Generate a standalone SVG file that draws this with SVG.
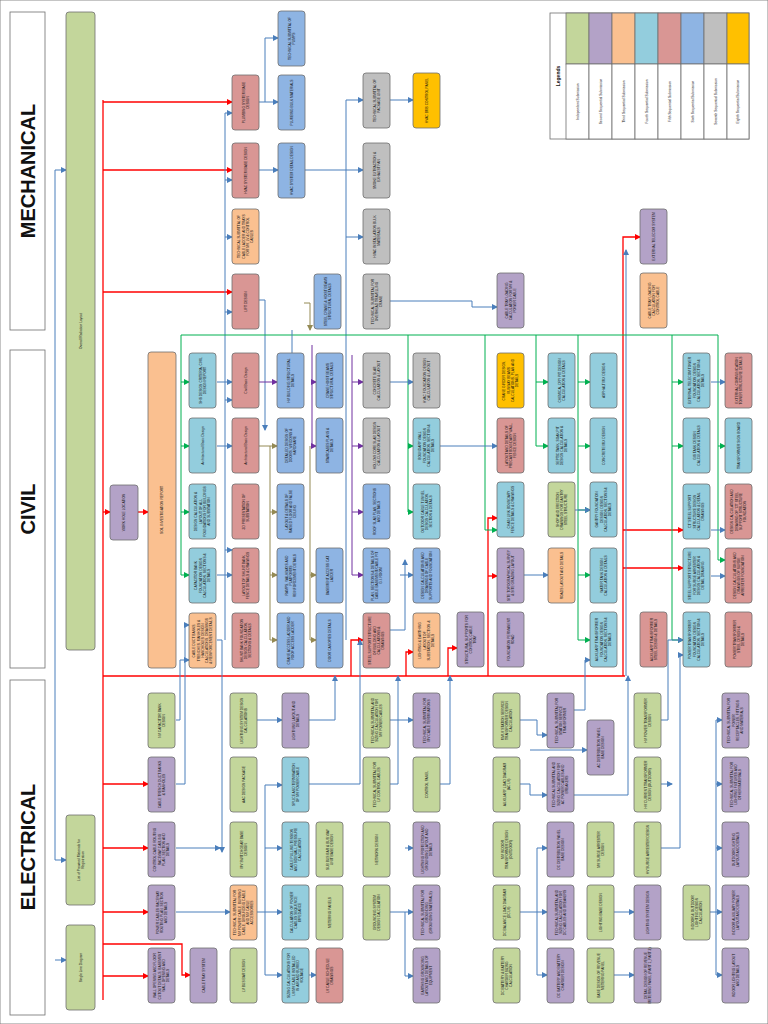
<svg xmlns="http://www.w3.org/2000/svg" width="768" height="1024" viewBox="0 0 768 1024">
<style>
rect{stroke:#6f6f6f;stroke-width:0.8}
.g{fill:#c3d69b}.p{fill:#b3a2c7}.o{fill:#fac090}.t{fill:#93cddd}.r{fill:#d99694}.b{fill:#8eb4e3}.gr{fill:#bfbfbf}.y{fill:#ffc000}.w{fill:#fff}
text{font-family:"Liberation Sans",Arial,sans-serif;font-size:3.3px;text-anchor:middle;fill:#111}
.h{font-size:20px;font-weight:bold}
.cb{fill:none;stroke:#4a7ebb;stroke-width:1;marker-end:url(#ab)}
.cr{fill:none;stroke:#ff0000;stroke-width:1.3;marker-end:url(#ar)}
.crn{fill:none;stroke:#ff0000;stroke-width:1.3}
.cg{fill:none;stroke:#00b050;stroke-width:1;marker-end:url(#ag)}
.cgn{fill:none;stroke:#00b050;stroke-width:1}
.cp{fill:none;stroke:#7030a0;stroke-width:1;marker-end:url(#ap)}
.co{fill:none;stroke:#948a54;stroke-width:1;marker-end:url(#ao)}
</style>
<defs>
<marker id="ab" markerWidth="6" markerHeight="6" refX="5" refY="3" orient="auto" markerUnits="userSpaceOnUse"><path d="M0,0L6,3L0,6z" fill="#4a7ebb"/></marker>
<marker id="ar" markerWidth="6" markerHeight="6" refX="5" refY="3" orient="auto" markerUnits="userSpaceOnUse"><path d="M0,0L6,3L0,6z" fill="#ff0000"/></marker>
<marker id="ag" markerWidth="6" markerHeight="6" refX="5" refY="3" orient="auto" markerUnits="userSpaceOnUse"><path d="M0,0L6,3L0,6z" fill="#00b050"/></marker>
<marker id="ap" markerWidth="6" markerHeight="6" refX="5" refY="3" orient="auto" markerUnits="userSpaceOnUse"><path d="M0,0L6,3L0,6z" fill="#7030a0"/></marker>
<marker id="ao" markerWidth="6" markerHeight="6" refX="5" refY="3" orient="auto" markerUnits="userSpaceOnUse"><path d="M0,0L6,3L0,6z" fill="#948a54"/></marker>
</defs>
<rect x="0" y="0" width="768" height="1024" fill="#fff" stroke="none"/>

<g id="headers">
<rect class="w" x="10" y="12" width="35" height="318"/><text class="h" transform="rotate(-90 27.5 171)" x="27.5" y="178">MECHANICAL</text>
<rect class="w" x="10" y="350" width="35" height="318"/><text class="h" transform="rotate(-90 27.5 509)" x="27.5" y="516">CIVIL</text>
<rect class="w" x="10" y="680" width="35" height="335"/><text class="h" transform="rotate(-90 27.5 847)" x="27.5" y="854">ELECTRICAL</text>
</g>

<g id="legend">
<rect class="w" x="550" y="13" width="199" height="126"/>
<text transform="rotate(-90 558 76)" x="558" y="77.5" style="font-size:5px;font-weight:bold">Legends</text>
<rect class="g" x="566" y="13" width="23" height="51"/><rect class="w" x="566" y="64" width="23" height="75"/><text transform="rotate(-90 577.5 101.5)" x="577.5" y="102.7">Independent Submission</text>
<rect class="p" x="589" y="13" width="23" height="51"/><rect class="w" x="589" y="64" width="23" height="75"/><text transform="rotate(-90 600.5 101.5)" x="600.5" y="102.7">Second Sequential Submission</text>
<rect class="o" x="612" y="13" width="23" height="51"/><rect class="w" x="612" y="64" width="23" height="75"/><text transform="rotate(-90 623.5 101.5)" x="623.5" y="102.7">Third Sequential Submission</text>
<rect class="t" x="635" y="13" width="23" height="51"/><rect class="w" x="635" y="64" width="23" height="75"/><text transform="rotate(-90 646.5 101.5)" x="646.5" y="102.7">Fourth Sequential Submission</text>
<rect class="r" x="658" y="13" width="23" height="51"/><rect class="w" x="658" y="64" width="23" height="75"/><text transform="rotate(-90 669.5 101.5)" x="669.5" y="102.7">Fifth Sequential Submission</text>
<rect class="b" x="681" y="13" width="23" height="51"/><rect class="w" x="681" y="64" width="23" height="75"/><text transform="rotate(-90 692.5 101.5)" x="692.5" y="102.7">Sixth Sequential Submission</text>
<rect class="gr" x="704" y="13" width="23" height="51"/><rect class="w" x="704" y="64" width="23" height="75"/><text transform="rotate(-90 715.5 101.5)" x="715.5" y="102.7">Seventh Sequential Submission</text>
<rect class="y" x="727" y="13" width="22" height="51"/><rect class="w" x="727" y="64" width="22" height="75"/><text transform="rotate(-90 738 101.5)" x="738" y="102.7">Eighth Sequential Submission</text>
</g>

<g id="connectors">
<path class="crn" d="M103,100V1000"/>
<path class="cr" d="M103,102H232"/><path class="cr" d="M103,170H232"/><path class="cr" d="M103,292H232"/>
<path class="cr" d="M103,512H110"/><path class="cr" d="M138,512H148"/>
<path class="cr" d="M103,784H148"/><path class="cr" d="M103,848H148"/><path class="cr" d="M103,912H148"/><path class="cr" d="M103,976H148"/>
<path class="cr" d="M103,944H182V975H190"/>
<path class="crn" d="M103,676H625"/>
<path class="cr" d="M351,676V640H363"/><path class="cr" d="M406,676V652H413"/><path class="cr" d="M448,676V648H457"/>
<path class="cr" d="M488,676V518H497"/><path class="cr" d="M488,576H497"/>
<path class="cr" d="M623,676V237H640"/><path class="cr" d="M623,530H683"/><path class="cr" d="M623,568H683"/>
<path class="cb" d="M626,676V250"/>
<path class="cb" d="M55,170V860H66"/><path class="cb" d="M55,170H66"/><path class="cb" d="M55,960H66"/>
<path class="cb" d="M225,640V113H232"/><path class="cb" d="M225,180H232"/><path class="cb" d="M225,237H232"/><path class="cb" d="M225,312H232"/>
<path class="cb" d="M258,102H265V38H278"/><path class="cb" d="M265,102H278"/>
<path class="cb" d="M258,170H278"/><path class="cb" d="M304,170H363"/>
<path class="cb" d="M346,640V100H363"/><path class="cb" d="M346,237H363"/>
<path class="cb" d="M390,100H413"/>
<path class="cb" d="M390,301H472V307H497"/>
<path class="cb" d="M258,300H265V430"/>
<path class="co" d="M304,303H310V330"/>
<path class="cgn" d="M181,335H718"/>
<path class="cg" d="M181,335V575H189"/><path class="cg" d="M181,382H189"/><path class="cg" d="M181,446H189"/><path class="cg" d="M181,512H189"/>
<path class="cg" d="M408,335V512H413"/><path class="cg" d="M408,446H413"/>
<path class="cg" d="M485,335V530H497"/>
<path class="cg" d="M536,335V446H548"/><path class="cg" d="M536,382H548"/>
<path class="cg" d="M578,335V640H590"/><path class="cg" d="M578,382H590"/><path class="cg" d="M578,446H590"/><path class="cg" d="M578,510H590"/><path class="cg" d="M578,575H590"/>
<path class="cg" d="M672,335V640H683"/><path class="cg" d="M672,382H683"/><path class="cg" d="M672,446H683"/>
<path class="cg" d="M718,335V560H725"/><path class="cg" d="M718,446H725"/>
<path class="cb" d="M217,382H232"/><path class="cb" d="M217,446H232"/><path class="cb" d="M217,575H232"/>
<path class="cb" d="M225,400H232"/><path class="cb" d="M225,550H232"/>
<path class="cp" d="M258,382H277"/>
<path class="co" d="M258,446H270V640H277"/><path class="co" d="M270,512H277"/><path class="co" d="M270,575H277"/><path class="co" d="M270,446H277"/>
<path class="co" d="M310,446V640H316"/><path class="co" d="M310,575H316"/>
<path class="cp" d="M352,355V575H363"/><path class="cp" d="M352,382H363"/><path class="cp" d="M352,446H363"/><path class="cp" d="M352,512H363"/>
<path class="cp" d="M312,345V446H316"/><path class="cp" d="M312,382H316"/>
<path class="cb" d="M292,330V395"/>
<path class="cb" d="M390,382H413"/><path class="cb" d="M440,446H497"/>
<path class="cb" d="M574,510H590"/><path class="cb" d="M523,575H548"/>
<path class="cb" d="M711,382H725"/><path class="cb" d="M711,530H725"/><path class="cb" d="M711,576H725"/>
<path class="cb" d="M400,575H413"/><path class="cb" d="M390,630H405V560"/>
<path class="cb" d="M176,720H180V660H189"/>
<path class="cb" d="M176,784H185V625H189"/>
<path class="cb" d="M217,640H222V852"/>
<path class="cb" d="M176,848H220"/>
<path class="cb" d="M176,912H230"/>
<path class="cb" d="M257,912H265V975H282"/><path class="cb" d="M265,785V912H282"/><path class="cb" d="M265,785H282"/><path class="cb" d="M265,848H282"/>
<path class="cb" d="M257,720H282"/>
<path class="cb" d="M308,720H335V676"/><path class="cb" d="M308,784H360V640"/>
<path class="cb" d="M308,975H316"/>
<path class="cb" d="M390,912H405V976H413"/><path class="cb" d="M405,848H413"/><path class="cb" d="M405,912H413"/>
<path class="cb" d="M390,720H413"/><path class="cb" d="M390,784H398V676"/><path class="cb" d="M440,784H450V676"/>
<path class="cb" d="M520,720H537V735H547"/>
<path class="cb" d="M520,784H530V795H547"/><path class="cb" d="M530,750H587"/>
<path class="cb" d="M520,912H537V975H547"/><path class="cb" d="M537,848V912H547"/><path class="cb" d="M537,848H547"/>
<path class="cb" d="M574,710H585V660H590"/><path class="cb" d="M574,795H628V676"/>
<path class="cb" d="M613,912H634"/><path class="cb" d="M613,975H634"/>
<path class="cb" d="M710,912H716V975H722"/><path class="cb" d="M716,720V912H722"/><path class="cb" d="M716,720H722"/><path class="cb" d="M716,784H722"/><path class="cb" d="M716,848H722"/>
<path class="cb" d="M661,720H668V640H683"/><path class="cb" d="M661,784H672"/><path class="cb" d="M661,848H680V655H683"/>
</g>

<g id="n_overall"><rect class="g" x="66" y="12" width="29" height="638" rx="3"/><text transform="rotate(-90 80.5 331)" x="80.5" y="332.2">Overall Radiation Layout</text></g>
<g id="n_list"><rect class="g" x="66" y="815" width="29" height="90" rx="3"/><text transform="rotate(-90 80.5 860)" x="80.5" y="860"><tspan x="80.5" dy="-0.9">List of Prewired Materials for</tspan><tspan x="80.5" dy="4.2">Registration</tspan></text></g>
<g id="n_sld"><rect class="g" x="66" y="925" width="29" height="85" rx="3"/><text transform="rotate(-90 80.5 967.5)" x="80.5" y="968.7">Single Line Diagram</text></g>
<g id="n_work"><rect class="p" x="110" y="485" width="28" height="55" rx="3"/><text transform="rotate(-90 124 512.5)" x="124" y="513.7">WORK HOLE LOCATION</text></g>
<g id="n_soil"><rect class="o" x="148" y="352" width="28" height="316" rx="3"/><text transform="rotate(-90 162 510)" x="162" y="511.2">SOIL INVESTIGATION REPORT</text></g>

<!-- Mechanical -->
<g id="m1"><rect class="r" x="232" y="75" width="27" height="55" rx="3"/><text transform="rotate(-90 245.5 102.5)" x="245.5" y="102.5"><tspan x="245.5" dy="-0.9">PLUMBING SYSTEM BASE</tspan><tspan x="245.5" dy="4.2">DESIGN</tspan></text></g>
<g id="m2"><rect class="r" x="232" y="143" width="27" height="55" rx="3"/><text transform="rotate(-90 245.5 170.5)" x="245.5" y="171.7">HVAC SYSTEM BASE DESIGN</text></g>
<g id="m3"><rect class="o" x="232" y="209" width="27" height="55" rx="3"/><text transform="rotate(-90 245.5 236.5)" x="245.5" y="236.5"><tspan x="245.5" dy="-5.1">TECHNICAL SUBMITTAL OF</tspan><tspan x="245.5" dy="4.2">CABLE LADDER AND TRAYS</tspan><tspan x="245.5" dy="4.2">FOR MV, LV &amp; CONTROL</tspan><tspan x="245.5" dy="4.2">CABLES</tspan></text></g>
<g id="m4"><rect class="r" x="232" y="274" width="27" height="55" rx="3"/><text transform="rotate(-90 245.5 301.5)" x="245.5" y="302.7">LIFT DESIGN</text></g>
<g id="m5"><rect class="b" x="278" y="11" width="27" height="55" rx="3"/><text transform="rotate(-90 291.5 38.5)" x="291.5" y="38.5"><tspan x="291.5" dy="-0.9">TECHNICAL SUBMITTAL OF</tspan><tspan x="291.5" dy="4.2">PUMPS</tspan></text></g>
<g id="m6"><rect class="b" x="278" y="75" width="27" height="55" rx="3"/><text transform="rotate(-90 291.5 102.5)" x="291.5" y="103.7">PLUMBING BULK MATERIALS</text></g>
<g id="m7"><rect class="b" x="278" y="143" width="27" height="55" rx="3"/><text transform="rotate(-90 291.5 170.5)" x="291.5" y="171.7">HVAC SYSTEM DETAIL DESIGN</text></g>
<g id="m8"><rect class="b" x="314" y="274" width="27" height="55" rx="3"/><text transform="rotate(-90 327.5 301.5)" x="327.5" y="301.5"><tspan x="327.5" dy="-0.9">STEEL CRANE &amp; HOIST BEAMS</tspan><tspan x="327.5" dy="4.2">STRUCTURAL DETAILS</tspan></text></g>
<g id="m9"><rect class="gr" x="363" y="73" width="27" height="55" rx="3"/><text transform="rotate(-90 376.5 100.5)" x="376.5" y="100.5"><tspan x="376.5" dy="-0.9">TECHNICAL SUBMITTAL OF</tspan><tspan x="376.5" dy="4.2">PACKAGE UNIT</tspan></text></g>
<g id="m10"><rect class="gr" x="363" y="143" width="27" height="55" rx="3"/><text transform="rotate(-90 376.5 170.5)" x="376.5" y="170.5"><tspan x="376.5" dy="-0.9">SMOKE EXTRACTION &amp;</tspan><tspan x="376.5" dy="4.2">EXHAUST FAN</tspan></text></g>
<g id="m11"><rect class="gr" x="363" y="209" width="27" height="55" rx="3"/><text transform="rotate(-90 376.5 236.5)" x="376.5" y="236.5"><tspan x="376.5" dy="-0.9">HVAC INSTALLATION BULK</tspan><tspan x="376.5" dy="4.2">MATERIALS</tspan></text></g>
<g id="m12"><rect class="gr" x="363" y="274" width="27" height="55" rx="3"/><text transform="rotate(-90 376.5 301.5)" x="376.5" y="301.5"><tspan x="376.5" dy="-3">TECHNICAL SUBMITTAL FOR</tspan><tspan x="376.5" dy="4.2">OVERHEAD TRAVELLING</tspan><tspan x="376.5" dy="4.2">CRANE</tspan></text></g>
<g id="m13"><rect class="y" x="413" y="73" width="27" height="55" rx="3"/><text transform="rotate(-90 426.5 100.5)" x="426.5" y="101.7">HVAC BMS CONTROL PANEL</text></g>
<g id="m14"><rect class="p" x="497" y="273" width="27" height="55" rx="3"/><text transform="rotate(-90 510.5 300.5)" x="510.5" y="300.5"><tspan x="510.5" dy="-3">CABLE TRAY LOADING</tspan><tspan x="510.5" dy="4.2">CALCULATION FOR MV &amp;</tspan><tspan x="510.5" dy="4.2">POWER CABLE</tspan></text></g>
<g id="m15"><rect class="p" x="640" y="209" width="27" height="55" rx="3"/><text transform="rotate(-90 653.5 236.5)" x="653.5" y="237.7">EXTERNAL TELECOM SYSTEM</text></g>
<g id="m16"><rect class="o" x="640" y="273" width="27" height="55" rx="3"/><text transform="rotate(-90 653.5 300.5)" x="653.5" y="300.5"><tspan x="653.5" dy="-3">CABLE TRAY LOADING</tspan><tspan x="653.5" dy="4.2">CALCULATION FOR</tspan><tspan x="653.5" dy="4.2">CONTROL CABLE</tspan></text></g>

<!-- Civil -->
<g id="c1"><rect class="t" x="189" y="353" width="27" height="55" rx="3"/><text transform="rotate(-90 202.5 380.5)" x="202.5" y="380.5"><tspan x="202.5" dy="-0.9">SHS DESIGN CRITERIA, CIVIL</tspan><tspan x="202.5" dy="4.2">DESIGN REPORT</tspan></text></g>
<g id="c2"><rect class="t" x="189" y="418" width="27" height="55" rx="3"/><text transform="rotate(-90 202.5 445.5)" x="202.5" y="446.7">Architectural Basic Design</text></g>
<g id="c3"><rect class="t" x="189" y="484" width="27" height="55" rx="3"/><text transform="rotate(-90 202.5 511.5)" x="202.5" y="511.5"><tspan x="202.5" dy="-5.1">DESIGN CALCULATION &amp;</tspan><tspan x="202.5" dy="4.2">LAYOUT OF ALL</tspan><tspan x="202.5" dy="4.2">FOUNDATIONS FOR BUILDINGS</tspan><tspan x="202.5" dy="4.2">AND SUBSTATION</tspan></text></g>
<g id="c4"><rect class="t" x="189" y="548" width="27" height="55" rx="3"/><text transform="rotate(-90 202.5 575.5)" x="202.5" y="575.5"><tspan x="202.5" dy="-5.1">CAPACITOR BANK</tspan><tspan x="202.5" dy="4.2">FOUNDATION DESIGN</tspan><tspan x="202.5" dy="4.2">CALCULATION, SECTIONS &amp;</tspan><tspan x="202.5" dy="4.2">DETAILS</tspan></text></g>
<g id="c5"><rect class="o" x="189" y="613" width="27" height="55" rx="3"/><text transform="rotate(-90 202.5 640.5)" x="202.5" y="640.5"><tspan x="202.5" dy="-7.2">CABLE DUCT BANKS,</tspan><tspan x="202.5" dy="4.2">TRENCHES, MANHOLES &amp;</tspan><tspan x="202.5" dy="4.2">HANDHOLES DESIGN</tspan><tspan x="202.5" dy="4.2">CALCULATIONS, DRAWINGS</tspan><tspan x="202.5" dy="4.2">&amp; REINFORCEMENT DETAILS</tspan></text></g>
<g id="c6"><rect class="r" x="232" y="353" width="27" height="55" rx="3"/><text transform="rotate(-90 245.5 380.5)" x="245.5" y="381.7">Civil Basic Design</text></g>
<g id="c7"><rect class="r" x="232" y="418" width="27" height="55" rx="3"/><text transform="rotate(-90 245.5 445.5)" x="245.5" y="446.7">Architectural Basic Design</text></g>
<g id="c8"><rect class="r" x="232" y="484" width="27" height="55" rx="3"/><text transform="rotate(-90 245.5 511.5)" x="245.5" y="511.5"><tspan x="245.5" dy="-0.9">3D PRESENTATION OF</tspan><tspan x="245.5" dy="4.2">SUBSTATION</tspan></text></g>
<g id="c9"><rect class="r" x="232" y="548" width="27" height="55" rx="3"/><text transform="rotate(-90 245.5 575.5)" x="245.5" y="575.5"><tspan x="245.5" dy="-0.9">LAYOUT OF SHUNT BANK</tspan><tspan x="245.5" dy="4.2">FENCE DETAILS &amp; DRAWINGS</tspan></text></g>
<g id="c10"><rect class="r" x="232" y="613" width="27" height="55" rx="3"/><text transform="rotate(-90 245.5 640.5)" x="245.5" y="640.5"><tspan x="245.5" dy="-3">SHUNT BANK FOUNDATION</tspan><tspan x="245.5" dy="4.2">DESIGN CALCULATION,</tspan><tspan x="245.5" dy="4.2">SECTIONS &amp; DETAILS</tspan></text></g>
<g id="c11"><rect class="b" x="277" y="353" width="27" height="55" rx="3"/><text transform="rotate(-90 290.5 380.5)" x="290.5" y="380.5"><tspan x="290.5" dy="-0.9">HV BUILDING STRUCTURAL</tspan><tspan x="290.5" dy="4.2">DETAILS</tspan></text></g>
<g id="c12"><rect class="b" x="277" y="418" width="27" height="55" rx="3"/><text transform="rotate(-90 290.5 445.5)" x="290.5" y="445.5"><tspan x="290.5" dy="-3">DETAILED DESIGN OF</tspan><tspan x="290.5" dy="4.2">DOORS, WINDOWS &amp;</tspan><tspan x="290.5" dy="4.2">HARDWARE</tspan></text></g>
<g id="c13"><rect class="b" x="277" y="484" width="27" height="55" rx="3"/><text transform="rotate(-90 290.5 511.5)" x="290.5" y="511.5"><tspan x="290.5" dy="-3">LAYOUT &amp; DETAILS OF</tspan><tspan x="290.5" dy="4.2">RAISED FLOOR AND FALSE</tspan><tspan x="290.5" dy="4.2">CEILING</tspan></text></g>
<g id="c14"><rect class="b" x="277" y="548" width="27" height="55" rx="3"/><text transform="rotate(-90 290.5 575.5)" x="290.5" y="575.5"><tspan x="290.5" dy="-3">RAMPS, WALKWAYS AND</tspan><tspan x="290.5" dy="4.2">PLATFORMS</tspan><tspan x="290.5" dy="4.2">REINFORCEMENT DETAILS</tspan></text></g>
<g id="c15"><rect class="b" x="277" y="613" width="27" height="55" rx="3"/><text transform="rotate(-90 290.5 640.5)" x="290.5" y="640.5"><tspan x="290.5" dy="-0.9">CRANE ACCESS LADDER AND</tspan><tspan x="290.5" dy="4.2">ROOF ACCESS LADDER</tspan></text></g>
<g id="c16"><rect class="b" x="316" y="353" width="27" height="55" rx="3"/><text transform="rotate(-90 329.5 380.5)" x="329.5" y="380.5"><tspan x="329.5" dy="-0.9">CRANE HOIST BEAMS</tspan><tspan x="329.5" dy="4.2">STRUCTURAL DETAILS</tspan></text></g>
<g id="c17"><rect class="b" x="316" y="418" width="27" height="55" rx="3"/><text transform="rotate(-90 329.5 445.5)" x="329.5" y="445.5"><tspan x="329.5" dy="-0.9">STAIRCASES PLANS &amp;</tspan><tspan x="329.5" dy="4.2">DETAILS</tspan></text></g>
<g id="c18"><rect class="b" x="316" y="548" width="27" height="55" rx="3"/><text transform="rotate(-90 329.5 575.5)" x="329.5" y="575.5"><tspan x="329.5" dy="-0.9">BASEMENT ACCESS CAT</tspan><tspan x="329.5" dy="4.2">LADDER</tspan></text></g>
<g id="c19"><rect class="b" x="316" y="613" width="27" height="55" rx="3"/><text transform="rotate(-90 329.5 640.5)" x="329.5" y="641.7">DOOR CANOPIES DETAILS</text></g>
<g id="c20"><rect class="gr" x="363" y="353" width="27" height="55" rx="3"/><text transform="rotate(-90 376.5 380.5)" x="376.5" y="380.5"><tspan x="376.5" dy="-0.9">CONCRETE SLAB</tspan><tspan x="376.5" dy="4.2">CALCULATION &amp; LAYOUT</tspan></text></g>
<g id="c21"><rect class="gr" x="363" y="418" width="27" height="55" rx="3"/><text transform="rotate(-90 376.5 445.5)" x="376.5" y="445.5"><tspan x="376.5" dy="-0.9">HOLLOW CORE SLAB DESIGN</tspan><tspan x="376.5" dy="4.2">CALCULATION &amp; LAYOUT</tspan></text></g>
<g id="c22"><rect class="b" x="363" y="484" width="27" height="55" rx="3"/><text transform="rotate(-90 376.5 511.5)" x="376.5" y="511.5"><tspan x="376.5" dy="-0.9">ROOF SLAB PLAN, SECTIONS</tspan><tspan x="376.5" dy="4.2">AND DETAILS</tspan></text></g>
<g id="c23"><rect class="b" x="363" y="548" width="27" height="55" rx="3"/><text transform="rotate(-90 376.5 575.5)" x="376.5" y="575.5"><tspan x="376.5" dy="-3">PLAN, SECTIONS &amp; DETAILS OF</tspan><tspan x="376.5" dy="4.2">CABLE BASEMENT/CABLE PIT</tspan><tspan x="376.5" dy="4.2">G.I. ROOM</tspan></text></g>
<g id="c24"><rect class="r" x="363" y="613" width="27" height="55" rx="3"/><text transform="rotate(-90 376.5 640.5)" x="376.5" y="640.5"><tspan x="376.5" dy="-5.1">STEEL SUPPORT STRUCTURE</tspan><tspan x="376.5" dy="4.2">OF BUILDING AND</tspan><tspan x="376.5" dy="4.2">CALCULATIONS &amp;</tspan><tspan x="376.5" dy="4.2">DRAWINGS</tspan></text></g>
<g id="c25"><rect class="gr" x="413" y="353" width="27" height="55" rx="3"/><text transform="rotate(-90 426.5 380.5)" x="426.5" y="380.5"><tspan x="426.5" dy="-0.9">HVAC FOUNDATION DESIGN</tspan><tspan x="426.5" dy="4.2">CALCULATION &amp; LAYOUT</tspan></text></g>
<g id="c26"><rect class="t" x="413" y="418" width="27" height="55" rx="3"/><text transform="rotate(-90 426.5 445.5)" x="426.5" y="445.5"><tspan x="426.5" dy="-5.1">BOUNDARY WALL</tspan><tspan x="426.5" dy="4.2">FOUNDATION DESIGN</tspan><tspan x="426.5" dy="4.2">CALCULATION, SECTION &amp;</tspan><tspan x="426.5" dy="4.2">DETAILS</tspan></text></g>
<g id="c27"><rect class="t" x="413" y="484" width="27" height="55" rx="3"/><text transform="rotate(-90 426.5 511.5)" x="426.5" y="511.5"><tspan x="426.5" dy="-3">OUTDOOR CABLE TUNNEL</tspan><tspan x="426.5" dy="4.2">DESIGN CALCULATION,</tspan><tspan x="426.5" dy="4.2">SECTION &amp; DETAILS</tspan></text></g>
<g id="c28"><rect class="b" x="413" y="548" width="27" height="55" rx="3"/><text transform="rotate(-90 426.5 575.5)" x="426.5" y="575.5"><tspan x="426.5" dy="-3">DESIGN CALCULATIONS AND</tspan><tspan x="426.5" dy="4.2">DRAWINGS OF CABLE</tspan><tspan x="426.5" dy="4.2">SUPPORTS AND FOUNDATION</tspan></text></g>
<g id="c29"><rect class="o" x="413" y="613" width="27" height="55" rx="3"/><text transform="rotate(-90 426.5 640.5)" x="426.5" y="640.5"><tspan x="426.5" dy="-5.1">LIGHTING &amp; EARTHING</tspan><tspan x="426.5" dy="4.2">LAYOUT OF</tspan><tspan x="426.5" dy="4.2">SUBSTATION, SECTION &amp;</tspan><tspan x="426.5" dy="4.2">DETAILS</tspan></text></g>
<g id="c30"><rect class="p" x="457" y="612" width="27" height="55" rx="3"/><text transform="rotate(-90 470.5 639.5)" x="470.5" y="639.5"><tspan x="470.5" dy="-3">STRUCTURAL SUPPORTS FOR</tspan><tspan x="470.5" dy="4.2">CONTROL CABLE</tspan><tspan x="470.5" dy="4.2">TRAY</tspan></text></g>
<g id="c31"><rect class="y" x="497" y="353" width="27" height="55" rx="3"/><text transform="rotate(-90 510.5 380.5)" x="510.5" y="380.5"><tspan x="510.5" dy="-5.1">CRANE GIRDER DESIGN,</tspan><tspan x="510.5" dy="4.2">RUNWAY BEAMS</tspan><tspan x="510.5" dy="4.2">CALCULATIONS, PLAN AND</tspan><tspan x="510.5" dy="4.2">DETAILS</tspan></text></g>
<g id="c32"><rect class="r" x="497" y="418" width="27" height="55" rx="3"/><text transform="rotate(-90 510.5 445.5)" x="510.5" y="445.5"><tspan x="510.5" dy="-3">LAYOUT AND DETAILS OF</tspan><tspan x="510.5" dy="4.2">PRECAST BOUNDARY WALL,</tspan><tspan x="510.5" dy="4.2">FENCE DESIGN</tspan></text></g>
<g id="c33"><rect class="t" x="497" y="482" width="27" height="55" rx="3"/><text transform="rotate(-90 510.5 509.5)" x="510.5" y="509.5"><tspan x="510.5" dy="-0.9">CHAIN LINK BOUNDARY</tspan><tspan x="510.5" dy="4.2">FENCE DETAILS &amp; DRAWINGS</tspan></text></g>
<g id="c34"><rect class="p" x="497" y="548" width="27" height="55" rx="3"/><text transform="rotate(-90 510.5 575.5)" x="510.5" y="575.5"><tspan x="510.5" dy="-0.9">SITE TOPOGRAPHICAL SURVEY</tspan><tspan x="510.5" dy="4.2">&amp; SITE GRADING LAYOUT</tspan></text></g>
<g id="c35"><rect class="p" x="497" y="612" width="27" height="55" rx="3"/><text transform="rotate(-90 510.5 639.5)" x="510.5" y="639.5"><tspan x="510.5" dy="-0.9">FOUNDATION PERMANENT</tspan><tspan x="510.5" dy="4.2">ROAD</tspan></text></g>
<g id="c36"><rect class="t" x="548" y="353" width="27" height="55" rx="3"/><text transform="rotate(-90 561.5 380.5)" x="561.5" y="380.5"><tspan x="561.5" dy="-0.9">CHEMICAL DRY PIT DESIGN</tspan><tspan x="561.5" dy="4.2">CALCULATION &amp; DETAILS</tspan></text></g>
<g id="c37"><rect class="t" x="548" y="418" width="27" height="55" rx="3"/><text transform="rotate(-90 561.5 445.5)" x="561.5" y="445.5"><tspan x="561.5" dy="-3">SEPTIC TANK, SOAK PIT</tspan><tspan x="561.5" dy="4.2">DESIGN CALCULATION &amp;</tspan><tspan x="561.5" dy="4.2">DETAILS</tspan></text></g>
<g id="c38"><rect class="g" x="548" y="482" width="27" height="55" rx="3"/><text transform="rotate(-90 561.5 509.5)" x="561.5" y="509.5"><tspan x="561.5" dy="-3">SHOP AND ERECTION</tspan><tspan x="561.5" dy="4.2">DRAWINGS FOR GANTRY</tspan><tspan x="561.5" dy="4.2">STEEL STRUCTURE</tspan></text></g>
<g id="c39"><rect class="o" x="548" y="548" width="27" height="55" rx="3"/><text transform="rotate(-90 561.5 575.5)" x="561.5" y="576.7">ROADS LAYOUT AND DETAILS</text></g>
<g id="c40"><rect class="t" x="590" y="353" width="27" height="55" rx="3"/><text transform="rotate(-90 603.5 380.5)" x="603.5" y="381.7">ASPHALT MIX DESIGN</text></g>
<g id="c41"><rect class="t" x="590" y="418" width="27" height="55" rx="3"/><text transform="rotate(-90 603.5 445.5)" x="603.5" y="446.7">CONCRETE MIX DESIGN</text></g>
<g id="c42"><rect class="t" x="590" y="482" width="27" height="55" rx="3"/><text transform="rotate(-90 603.5 509.5)" x="603.5" y="509.5"><tspan x="603.5" dy="-5.1">GANTRY FOUNDATION</tspan><tspan x="603.5" dy="4.2">DESIGN, DESIGN</tspan><tspan x="603.5" dy="4.2">CALCULATION, SECTIONS &amp;</tspan><tspan x="603.5" dy="4.2">DETAILS</tspan></text></g>
<g id="c43"><rect class="t" x="590" y="548" width="27" height="55" rx="3"/><text transform="rotate(-90 603.5 575.5)" x="603.5" y="575.5"><tspan x="603.5" dy="-0.9">WATER TANK DESIGN</tspan><tspan x="603.5" dy="4.2">CALCULATION &amp; DETAILS</tspan></text></g>
<g id="c44"><rect class="t" x="590" y="612" width="27" height="55" rx="3"/><text transform="rotate(-90 603.5 639.5)" x="603.5" y="639.5"><tspan x="603.5" dy="-5.1">AUXILIARY TRANSFORMER</tspan><tspan x="603.5" dy="4.2">FOUNDATION DESIGN</tspan><tspan x="603.5" dy="4.2">CALCULATION, SECTIONS &amp;</tspan><tspan x="603.5" dy="4.2">DETAILS</tspan></text></g>
<g id="c45"><rect class="r" x="640" y="612" width="27" height="55" rx="3"/><text transform="rotate(-90 653.5 639.5)" x="653.5" y="639.5"><tspan x="653.5" dy="-0.9">AUXILIARY TRANSFORMER</tspan><tspan x="653.5" dy="4.2">STEEL DESIGN &amp; DETAILS</tspan></text></g>
<g id="c46"><rect class="t" x="683" y="353" width="27" height="55" rx="3"/><text transform="rotate(-90 696.5 380.5)" x="696.5" y="380.5"><tspan x="696.5" dy="-5.1">EXTERNAL TELECOM TOWER</tspan><tspan x="696.5" dy="4.2">FOUNDATION DESIGN</tspan><tspan x="696.5" dy="4.2">CALCULATION, SECTION &amp;</tspan><tspan x="696.5" dy="4.2">DETAILS</tspan></text></g>
<g id="c47"><rect class="t" x="683" y="418" width="27" height="55" rx="3"/><text transform="rotate(-90 696.5 445.5)" x="696.5" y="445.5"><tspan x="696.5" dy="-0.9">GIS TANK DESIGN</tspan><tspan x="696.5" dy="4.2">CALCULATION &amp; DETAILS</tspan></text></g>
<g id="c48"><rect class="t" x="683" y="484" width="27" height="55" rx="3"/><text transform="rotate(-90 696.5 511.5)" x="696.5" y="511.5"><tspan x="696.5" dy="-5.1">'CT' STEEL SUPPORT</tspan><tspan x="696.5" dy="4.2">STRUCTURE DESIGN</tspan><tspan x="696.5" dy="4.2">CALCULATION &amp; DETAIL</tspan><tspan x="696.5" dy="4.2">DRAWINGS</tspan></text></g>
<g id="c49"><rect class="t" x="683" y="548" width="27" height="55" rx="3"/><text transform="rotate(-90 696.5 575.5)" x="696.5" y="575.5"><tspan x="696.5" dy="-5.1">STEEL SUPPORT STRUCTURE</tspan><tspan x="696.5" dy="4.2">FOR SURGE ARRESTER</tspan><tspan x="696.5" dy="4.2">DESIGN CALCULATION &amp;</tspan><tspan x="696.5" dy="4.2">DETAIL DRAWING</tspan></text></g>
<g id="c50"><rect class="t" x="683" y="612" width="27" height="55" rx="3"/><text transform="rotate(-90 696.5 639.5)" x="696.5" y="639.5"><tspan x="696.5" dy="-5.1">POWER TRANSFORMER</tspan><tspan x="696.5" dy="4.2">FOUNDATION DESIGN</tspan><tspan x="696.5" dy="4.2">CALCULATION, SECTION &amp;</tspan><tspan x="696.5" dy="4.2">DETAILS</tspan></text></g>
<g id="c51"><rect class="r" x="725" y="353" width="27" height="55" rx="3"/><text transform="rotate(-90 738.5 380.5)" x="738.5" y="380.5"><tspan x="738.5" dy="-0.9">EXTERNAL COMMUNICATION</tspan><tspan x="738.5" dy="4.2">TOWER STRUCTURE DETAILS</tspan></text></g>
<g id="c52"><rect class="t" x="725" y="418" width="27" height="55" rx="3"/><text transform="rotate(-90 738.5 445.5)" x="738.5" y="446.7">TRANSFORMER SIGN BOARD</text></g>
<g id="c53"><rect class="r" x="725" y="484" width="27" height="55" rx="3"/><text transform="rotate(-90 738.5 511.5)" x="738.5" y="511.5"><tspan x="738.5" dy="-5.1">DESIGN CALCULATION AND</tspan><tspan x="738.5" dy="4.2">DRAWING OF 'CT' STEEL</tspan><tspan x="738.5" dy="4.2">SUPPORT STRUCTURE</tspan><tspan x="738.5" dy="4.2">FOUNDATION</tspan></text></g>
<g id="c54"><rect class="r" x="725" y="548" width="27" height="55" rx="3"/><text transform="rotate(-90 738.5 575.5)" x="738.5" y="575.5"><tspan x="738.5" dy="-3">DESIGN CALCULATIONS AND</tspan><tspan x="738.5" dy="4.2">DRAWINGS OF SURGE</tspan><tspan x="738.5" dy="4.2">ARRESTER FOUNDATION</tspan></text></g>
<g id="c55"><rect class="r" x="725" y="612" width="27" height="55" rx="3"/><text transform="rotate(-90 738.5 639.5)" x="738.5" y="639.5"><tspan x="738.5" dy="-3">POWER TRANSFORMER</tspan><tspan x="738.5" dy="4.2">STEEL DESIGN &amp;</tspan><tspan x="738.5" dy="4.2">DETAILS</tspan></text></g>

<!-- Electrical -->
<g id="e1"><rect class="g" x="148" y="693" width="27" height="55" rx="3"/><text transform="rotate(-90 161.5 720.5)" x="161.5" y="720.5"><tspan x="161.5" dy="-0.9">NV CAPACITOR BANK</tspan><tspan x="161.5" dy="4.2">DESIGN</tspan></text></g>
<g id="e2"><rect class="p" x="148" y="757" width="27" height="55" rx="3"/><text transform="rotate(-90 161.5 784.5)" x="161.5" y="784.5"><tspan x="161.5" dy="-0.9">CABLE TRENCH DUCT BANKS</tspan><tspan x="161.5" dy="4.2">&amp; MANHOLES</tspan></text></g>
<g id="e3"><rect class="p" x="148" y="822" width="27" height="55" rx="3"/><text transform="rotate(-90 161.5 849.5)" x="161.5" y="849.5"><tspan x="161.5" dy="-5.1">CONTROL CABLE ROUTING</tspan><tspan x="161.5" dy="4.2">RACEWAY CABLING</tspan><tspan x="161.5" dy="4.2">PLAN, SECTION AND</tspan><tspan x="161.5" dy="4.2">DETAILS</tspan></text></g>
<g id="e4"><rect class="p" x="148" y="885" width="27" height="55" rx="3"/><text transform="rotate(-90 161.5 912.5)" x="161.5" y="912.5"><tspan x="161.5" dy="-3">POWER CABLES RACEWAY</tspan><tspan x="161.5" dy="4.2">ROUTING PLAN, SECTION</tspan><tspan x="161.5" dy="4.2">AND DETAILS</tspan></text></g>
<g id="e5"><rect class="p" x="148" y="948" width="27" height="55" rx="3"/><text transform="rotate(-90 161.5 975.5)" x="161.5" y="975.5"><tspan x="161.5" dy="-5.1">WALL OPENING AND FLOOR</tspan><tspan x="161.5" dy="4.2">CUTOUT DETAILS, BASEMENT</tspan><tspan x="161.5" dy="4.2">WALL OPENING AND</tspan><tspan x="161.5" dy="4.2">DETAILS</tspan></text></g>
<g id="e6"><rect class="p" x="190" y="948" width="27" height="55" rx="3"/><text transform="rotate(-90 203.5 975.5)" x="203.5" y="976.7">CABLE TRAY SYSTEM</text></g>
<g id="e7"><rect class="g" x="230" y="693" width="27" height="55" rx="3"/><text transform="rotate(-90 243.5 720.5)" x="243.5" y="720.5"><tspan x="243.5" dy="-0.9">LIGHTNING SYSTEM DESIGN</tspan><tspan x="243.5" dy="4.2">CALCULATIONS</tspan></text></g>
<g id="e8"><rect class="g" x="230" y="757" width="27" height="55" rx="3"/><text transform="rotate(-90 243.5 784.5)" x="243.5" y="785.7">AAC DESIGN PACKAGE</text></g>
<g id="e9"><rect class="g" x="230" y="822" width="27" height="55" rx="3"/><text transform="rotate(-90 243.5 849.5)" x="243.5" y="849.5"><tspan x="243.5" dy="-0.9">MV SWITCHGEAR BASE</tspan><tspan x="243.5" dy="4.2">DESIGN</tspan></text></g>
<g id="e10"><rect class="o" x="230" y="885" width="27" height="55" rx="3"/><text transform="rotate(-90 243.5 912.5)" x="243.5" y="912.5"><tspan x="243.5" dy="-7.2">TECHNICAL SUBMITTAL FOR</tspan><tspan x="243.5" dy="4.2">MV POWER CABLE, BURNING</tspan><tspan x="243.5" dy="4.2">CABLE, GROUNDING CABLE</tspan><tspan x="243.5" dy="4.2">AND MV CABLE</tspan><tspan x="243.5" dy="4.2">ACCESSORIES</tspan></text></g>
<g id="e11"><rect class="g" x="230" y="948" width="27" height="55" rx="3"/><text transform="rotate(-90 243.5 975.5)" x="243.5" y="976.7">LV BUS BAR DESIGN</text></g>
<g id="e12"><rect class="p" x="282" y="693" width="27" height="55" rx="3"/><text transform="rotate(-90 295.5 720.5)" x="295.5" y="720.5"><tspan x="295.5" dy="-0.9">LIGHTNING LAYOUT AND</tspan><tspan x="295.5" dy="4.2">DETAILS</tspan></text></g>
<g id="e13"><rect class="t" x="282" y="757" width="27" height="55" rx="3"/><text transform="rotate(-90 295.5 784.5)" x="295.5" y="784.5"><tspan x="295.5" dy="-0.9">SPLICE AND TERMINATION</tspan><tspan x="295.5" dy="4.2">OF MV POWER CABLE</tspan></text></g>
<g id="e14"><rect class="t" x="282" y="822" width="27" height="55" rx="3"/><text transform="rotate(-90 295.5 849.5)" x="295.5" y="849.5"><tspan x="295.5" dy="-3">CABLE PULLING TENSION</tspan><tspan x="295.5" dy="4.2">AND SIDEWALL PRESSURE</tspan><tspan x="295.5" dy="4.2">CALCULATION</tspan></text></g>
<g id="e15"><rect class="t" x="282" y="885" width="27" height="55" rx="3"/><text transform="rotate(-90 295.5 912.5)" x="295.5" y="912.5"><tspan x="295.5" dy="-3">CALCULATION OF POWER</tspan><tspan x="295.5" dy="4.2">CABLES SEQUENCE</tspan><tspan x="295.5" dy="4.2">IMPEDANCE</tspan></text></g>
<g id="e16"><rect class="t" x="282" y="948" width="27" height="55" rx="3"/><text transform="rotate(-90 295.5 975.5)" x="295.5" y="975.5"><tspan x="295.5" dy="-5.1">SIZING CALCULATIONS FOR</tspan><tspan x="295.5" dy="4.2">LV/MV CABLE INSTALLED</tspan><tspan x="295.5" dy="4.2">IN AIR AND BURIED</tspan><tspan x="295.5" dy="4.2">VOLTAGE</tspan></text></g>
<g id="e17"><rect class="g" x="316" y="822" width="27" height="55" rx="3"/><text transform="rotate(-90 329.5 849.5)" x="329.5" y="849.5"><tspan x="329.5" dy="-0.9">SUB BUS BAR &amp; BUS WAY</tspan><tspan x="329.5" dy="4.2">UNIT BASE DESIGN</tspan></text></g>
<g id="e18"><rect class="g" x="316" y="885" width="27" height="55" rx="3"/><text transform="rotate(-90 329.5 912.5)" x="329.5" y="913.7">METERING PANELS</text></g>
<g id="e19"><rect class="r" x="316" y="948" width="27" height="55" rx="3"/><text transform="rotate(-90 329.5 975.5)" x="329.5" y="975.5"><tspan x="329.5" dy="-0.9">LV CABLE SCHEDULE</tspan><tspan x="329.5" dy="4.2">DRAWINGS</tspan></text></g>
<g id="e20"><rect class="g" x="363" y="693" width="27" height="55" rx="3"/><text transform="rotate(-90 376.5 720.5)" x="376.5" y="720.5"><tspan x="376.5" dy="-3">TECHNICAL SUBMITTAL AND</tspan><tspan x="376.5" dy="4.2">SIZING CALCULATION FOR</tspan><tspan x="376.5" dy="4.2">MV POWER CABLES</tspan></text></g>
<g id="e21"><rect class="g" x="363" y="757" width="27" height="55" rx="3"/><text transform="rotate(-90 376.5 784.5)" x="376.5" y="784.5"><tspan x="376.5" dy="-0.9">TECHNICAL SUBMITTAL FOR</tspan><tspan x="376.5" dy="4.2">LV CONTROL CABLES</tspan></text></g>
<g id="e22"><rect class="g" x="363" y="822" width="27" height="55" rx="3"/><text transform="rotate(-90 376.5 849.5)" x="376.5" y="850.7">NETWORK DESIGN</text></g>
<g id="e23"><rect class="g" x="363" y="885" width="27" height="55" rx="3"/><text transform="rotate(-90 376.5 912.5)" x="376.5" y="912.5"><tspan x="376.5" dy="-0.9">GROUNDING SYSTEM</tspan><tspan x="376.5" dy="4.2">DESIGN CALCULATION</tspan></text></g>
<g id="e24"><rect class="p" x="413" y="693" width="27" height="55" rx="3"/><text transform="rotate(-90 426.5 720.5)" x="426.5" y="720.5"><tspan x="426.5" dy="-0.9">TECHNICAL SUBMITTAL FOR</tspan><tspan x="426.5" dy="4.2">MV CABLE TERMINATIONS</tspan></text></g>
<g id="e25"><rect class="g" x="413" y="757" width="27" height="55" rx="3"/><text transform="rotate(-90 426.5 784.5)" x="426.5" y="785.7">CONTROL PANEL</text></g>
<g id="e26"><rect class="p" x="413" y="822" width="27" height="55" rx="3"/><text transform="rotate(-90 426.5 849.5)" x="426.5" y="849.5"><tspan x="426.5" dy="-3">LIGHTNING PROTECTION AND</tspan><tspan x="426.5" dy="4.2">GROUNDING LAYOUT AND</tspan><tspan x="426.5" dy="4.2">DETAILS</tspan></text></g>
<g id="e27"><rect class="p" x="413" y="885" width="27" height="55" rx="3"/><text transform="rotate(-90 426.5 912.5)" x="426.5" y="912.5"><tspan x="426.5" dy="-3">TECHNICAL SUBMITTAL FOR</tspan><tspan x="426.5" dy="4.2">GROUNDING</tspan><tspan x="426.5" dy="4.2">(GROUNDING MATERIALS)</tspan></text></g>
<g id="e28"><rect class="p" x="413" y="948" width="27" height="55" rx="3"/><text transform="rotate(-90 426.5 975.5)" x="426.5" y="975.5"><tspan x="426.5" dy="-3">EARTHING GROUNDING</tspan><tspan x="426.5" dy="4.2">LAYOUT AND DETAILS OF</tspan><tspan x="426.5" dy="4.2">EQUIPMENT</tspan></text></g>
<g id="e29"><rect class="g" x="493" y="693" width="27" height="55" rx="3"/><text transform="rotate(-90 506.5 720.5)" x="506.5" y="720.5"><tspan x="506.5" dy="-3">MV/LV STATION SERVICE</tspan><tspan x="506.5" dy="4.2">TRANSFORMER DESIGN</tspan><tspan x="506.5" dy="4.2">CALCULATION</tspan></text></g>
<g id="e30"><rect class="g" x="493" y="757" width="27" height="55" rx="3"/><text transform="rotate(-90 506.5 784.5)" x="506.5" y="784.5"><tspan x="506.5" dy="-0.9">AUXILIARY LOAD DIAGRAM</tspan><tspan x="506.5" dy="4.2">(AC LV)</tspan></text></g>
<g id="e31"><rect class="g" x="493" y="822" width="27" height="55" rx="3"/><text transform="rotate(-90 506.5 849.5)" x="506.5" y="849.5"><tspan x="506.5" dy="-3">MV INDOOR</tspan><tspan x="506.5" dy="4.2">TRANSFORMER DESIGN</tspan><tspan x="506.5" dy="4.2">(OUTDOOR)</tspan></text></g>
<g id="e32"><rect class="g" x="493" y="885" width="27" height="55" rx="3"/><text transform="rotate(-90 506.5 912.5)" x="506.5" y="912.5"><tspan x="506.5" dy="-0.9">DC BALANCE LOAD DIAGRAM</tspan><tspan x="506.5" dy="4.2">(DC LV)</tspan></text></g>
<g id="e33"><rect class="g" x="493" y="948" width="27" height="55" rx="3"/><text transform="rotate(-90 506.5 975.5)" x="506.5" y="975.5"><tspan x="506.5" dy="-3">DC BATTERY &amp; BATTERY</tspan><tspan x="506.5" dy="4.2">CHARGER SIZING</tspan><tspan x="506.5" dy="4.2">CALCULATION</tspan></text></g>
<g id="e34"><rect class="p" x="547" y="693" width="27" height="55" rx="3"/><text transform="rotate(-90 560.5 720.5)" x="560.5" y="720.5"><tspan x="560.5" dy="-3">TECHNICAL SUBMITTAL FOR</tspan><tspan x="560.5" dy="4.2">STATION SERVICE</tspan><tspan x="560.5" dy="4.2">TRANSFORMER</tspan></text></g>
<g id="e35"><rect class="p" x="547" y="757" width="27" height="55" rx="3"/><text transform="rotate(-90 560.5 784.5)" x="560.5" y="784.5"><tspan x="560.5" dy="-5.1">TECHNICAL SUBMITTAL AND</tspan><tspan x="560.5" dy="4.2">SIZING CALCULATION FOR</tspan><tspan x="560.5" dy="4.2">AC POWER CABLES AND</tspan><tspan x="560.5" dy="4.2">BREAKERS</tspan></text></g>
<g id="e36"><rect class="p" x="547" y="822" width="27" height="55" rx="3"/><text transform="rotate(-90 560.5 849.5)" x="560.5" y="849.5"><tspan x="560.5" dy="-0.9">DC DISTRIBUTION PANEL</tspan><tspan x="560.5" dy="4.2">BASE DESIGN</tspan></text></g>
<g id="e37"><rect class="p" x="547" y="885" width="27" height="55" rx="3"/><text transform="rotate(-90 560.5 912.5)" x="560.5" y="912.5"><tspan x="560.5" dy="-3">TECHNICAL SUBMITTAL AND</tspan><tspan x="560.5" dy="4.2">SIZING CALCULATION FOR</tspan><tspan x="560.5" dy="4.2">DC CABLES AND BREAKERS</tspan></text></g>
<g id="e38"><rect class="p" x="547" y="948" width="27" height="55" rx="3"/><text transform="rotate(-90 560.5 975.5)" x="560.5" y="975.5"><tspan x="560.5" dy="-0.9">DC BATTERY AND BATTERY</tspan><tspan x="560.5" dy="4.2">CHARGER DESIGN</tspan></text></g>
<g id="e39"><rect class="p" x="587" y="720" width="27" height="55" rx="3"/><text transform="rotate(-90 600.5 747.5)" x="600.5" y="747.5"><tspan x="600.5" dy="-0.9">AC DISTRIBUTION PANEL</tspan><tspan x="600.5" dy="4.2">BASE DESIGN</tspan></text></g>
<g id="e40"><rect class="g" x="587" y="822" width="27" height="55" rx="3"/><text transform="rotate(-90 600.5 849.5)" x="600.5" y="849.5"><tspan x="600.5" dy="-0.9">MV SURGE ARRESTER</tspan><tspan x="600.5" dy="4.2">DESIGN</tspan></text></g>
<g id="e41"><rect class="g" x="587" y="885" width="27" height="55" rx="3"/><text transform="rotate(-90 600.5 912.5)" x="600.5" y="913.7">LIGHTING BASE DESIGN</text></g>
<g id="e42"><rect class="g" x="587" y="948" width="27" height="55" rx="3"/><text transform="rotate(-90 600.5 975.5)" x="600.5" y="975.5"><tspan x="600.5" dy="-0.9">BASE DESIGN OF REVENUE</tspan><tspan x="600.5" dy="4.2">METERING PANEL</tspan></text></g>
<g id="e43"><rect class="g" x="634" y="693" width="27" height="55" rx="3"/><text transform="rotate(-90 647.5 720.5)" x="647.5" y="720.5"><tspan x="647.5" dy="-0.9">HV POWER TRANSFORMER</tspan><tspan x="647.5" dy="4.2">DESIGN</tspan></text></g>
<g id="e44"><rect class="g" x="634" y="757" width="27" height="55" rx="3"/><text transform="rotate(-90 647.5 784.5)" x="647.5" y="784.5"><tspan x="647.5" dy="-0.9">HV CURRENT TRANSFORMER</tspan><tspan x="647.5" dy="4.2">DESIGN (OUTDOOR)</tspan></text></g>
<g id="e45"><rect class="g" x="634" y="822" width="27" height="55" rx="3"/><text transform="rotate(-90 647.5 849.5)" x="647.5" y="850.7">HV SURGE ARRESTER DESIGN</text></g>
<g id="e46"><rect class="p" x="634" y="885" width="27" height="55" rx="3"/><text transform="rotate(-90 647.5 912.5)" x="647.5" y="913.7">LIGHTING SYSTEM DESIGN</text></g>
<g id="e47"><rect class="p" x="634" y="948" width="27" height="55" rx="3"/><text transform="rotate(-90 647.5 975.5)" x="647.5" y="975.5"><tspan x="647.5" dy="-0.9">DETAIL DESIGN OF REVENUE</tspan><tspan x="647.5" dy="4.2">METERING PANEL (PART 1_PART 2)</tspan></text></g>
<g id="e48"><rect class="g" x="683" y="885" width="27" height="55" rx="3"/><text transform="rotate(-90 696.5 912.5)" x="696.5" y="912.5"><tspan x="696.5" dy="-3">INDOOR &amp; OUTDOOR</tspan><tspan x="696.5" dy="4.2">LIGHTING DESIGN</tspan><tspan x="696.5" dy="4.2">CALCULATION</tspan></text></g>
<g id="e49"><rect class="p" x="722" y="693" width="27" height="55" rx="3"/><text transform="rotate(-90 735.5 720.5)" x="735.5" y="720.5"><tspan x="735.5" dy="-5.1">TECHNICAL SUBMITTAL FOR</tspan><tspan x="735.5" dy="4.2">POWER</tspan><tspan x="735.5" dy="4.2">RECEPTACLES, FITTINGS</tspan><tspan x="735.5" dy="4.2">AND MATERIALS</tspan></text></g>
<g id="e50"><rect class="p" x="722" y="757" width="27" height="55" rx="3"/><text transform="rotate(-90 735.5 784.5)" x="735.5" y="784.5"><tspan x="735.5" dy="-3">TECHNICAL SUBMITTAL FOR</tspan><tspan x="735.5" dy="4.2">LIGHTING FIXTURES AND</tspan><tspan x="735.5" dy="4.2">OTHER MATERIALS</tspan></text></g>
<g id="e51"><rect class="p" x="722" y="822" width="27" height="55" rx="3"/><text transform="rotate(-90 735.5 849.5)" x="735.5" y="849.5"><tspan x="735.5" dy="-0.9">OUTDOOR LIGHTING</tspan><tspan x="735.5" dy="4.2">LAYOUT AND DETAILS</tspan></text></g>
<g id="e52"><rect class="p" x="722" y="885" width="27" height="55" rx="3"/><text transform="rotate(-90 735.5 912.5)" x="735.5" y="912.5"><tspan x="735.5" dy="-0.9">INDOOR AUXILIARY POWER</tspan><tspan x="735.5" dy="4.2">LAYOUT AND DETAILS</tspan></text></g>
<g id="e53"><rect class="p" x="722" y="948" width="27" height="55" rx="3"/><text transform="rotate(-90 735.5 975.5)" x="735.5" y="975.5"><tspan x="735.5" dy="-0.9">INDOOR LIGHTING LAYOUT</tspan><tspan x="735.5" dy="4.2">AND DETAILS</tspan></text></g>
</svg>
